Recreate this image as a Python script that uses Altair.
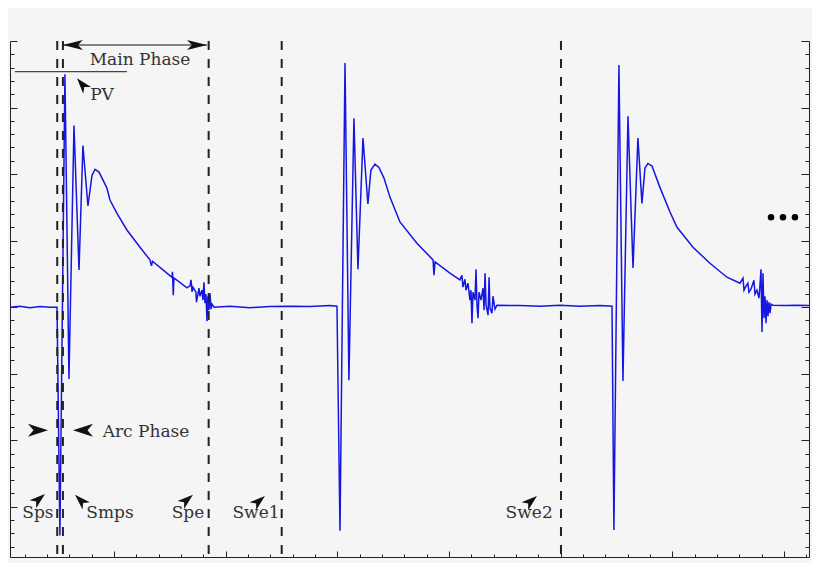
import altair as alt
import pandas as pd

# ---------------- signal (time in ms, amplitude in arbitrary units) ----------------
base0_t = [0.69, 1.58, 2.48, 3.38, 4.27, 4.90]
base0_v = [0.0, 0.015, -0.008, 0.008, 0.0, 0.0]

pulse1_t = [5.16, 5.61, 5.97, 6.42, 6.87, 7.22, 7.67, 8.03, 8.30, 8.66, 9.02, 9.37, 9.64,
            10.27, 11.16, 12.33, 13.22, 13.36, 13.45, 14.39, 15.19, 15.24, 15.31, 15.37,
            16.54, 16.81, 16.90, 16.99, 17.08, 17.34, 17.39, 17.61, 17.70, 17.88, 17.97,
            18.06, 18.15, 18.24, 18.33, 18.42, 18.51, 18.60, 18.69, 18.78, 18.96]
pulse1_v = [-3.43, 3.50, -1.08, 2.73, 0.56, 2.43, 1.52, 1.98, 2.07, 2.03, 1.91, 1.79, 1.61,
            1.41, 1.16, 0.90, 0.71, 0.62, 0.69, 0.56, 0.45, 0.53, 0.18, 0.44,
            0.29, 0.32, 0.41, 0.23, 0.30, 0.225, 0.075, 0.285, 0.165, 0.255, 0.105,
            0.375, 0.06, 0.195, -0.21, 0.165, -0.045, 0.21, -0.03, 0.045, 0.0]

base1_t = [20.39, 22.18, 23.97, 25.76, 27.55, 29.34, 29.97]
base1_v = [0.015, -0.008, 0.008, 0.015, 0.008, 0.023, 0.015]

pulse2_t = [30.24, 30.69, 31.04, 31.49, 31.85, 32.30, 32.74, 33.01, 33.37, 33.73, 34.18,
            34.72, 35.61, 37.13, 38.57, 38.66, 38.75, 40.09, 40.98, 41.16, 41.25, 41.43,
            41.52, 41.70, 41.88, 41.97, 42.06, 42.15, 42.33, 42.42, 42.51, 42.60, 42.69,
            42.87, 43.05, 43.14, 43.23, 43.32, 43.50, 43.59, 43.67, 43.85, 43.94, 44.12, 44.30]
pulse2_v = [-3.36, 3.67, -1.10, 2.84, 0.57, 2.54, 1.55, 2.06, 2.15, 2.10, 1.94,
            1.65, 1.28, 0.96, 0.71, 0.48, 0.68, 0.51, 0.41, 0.48, 0.30, 0.42,
            0.255, 0.36, 0.105, 0.255, -0.24, 0.225, 0.105, 0.57, 0.03, -0.165, 0.225,
            0.105, 0.285, -0.045, 0.51, 0.03, -0.12, 0.45, -0.015, -0.09, 0.165, -0.03, 0.03]

base2_t = [46.36, 48.15, 49.94, 51.73, 53.52, 54.60]
base2_v = [0.023, 0.015, 0.03, 0.015, 0.023, 0.015]

pulse3_t = [54.77, 55.22, 55.58, 56.03, 56.48, 56.92, 57.28, 57.55, 57.82, 58.18, 58.89,
            59.79, 60.42, 61.85, 63.37, 64.89, 66.06, 66.33, 66.42, 66.60, 66.77, 66.86,
            67.04, 67.31, 67.40, 67.58, 67.76, 67.85, 67.94, 68.03, 68.12, 68.21, 68.30,
            68.39, 68.48, 68.57, 68.66, 68.75, 68.84, 69.01]
pulse3_v = [-3.35, 3.64, -1.11, 2.87, 0.59, 2.54, 1.56, 2.09, 2.16, 2.12, 1.80,
            1.43, 1.20, 0.90, 0.66, 0.45, 0.36, 0.435, 0.255, 0.315, 0.36, 0.225,
            0.27, 0.405, 0.195, 0.255, 0.135, 0.33, 0.57, -0.375, 0.51, -0.165, 0.165,
            -0.24, 0.105, -0.135, 0.075, -0.09, 0.045, 0.03]

base3_t = [70.09, 71.16, 72.24]
base3_v = [0.023, 0.03, 0.023]

# ---------------- event markers ----------------
marker_name = ["Sps", "Smps", "Spe", "Swe1", "Swe2"]
marker_t = [4.92, 5.43, 18.48, 25.02, 50.03]

# ---------------- annotations ----------------
label_text = ["Main Phase", "PV", "Arc Phase", "Sps", "Smps", "Spe", "Swe1", "Swe2"]
label_t = [12.33, 8.93, 12.87, 3.19, 9.64, 16.63, 22.72, 47.18]
label_v = [3.635, 3.11, -1.953, -3.17, -3.17, -3.17, -3.17, -3.17]

pointer_t = [6.69, 6.51, 3.82, 17.07, 23.52, 47.88]
pointer_v = [3.44, -2.82, -2.81, -2.82, -2.84, -2.84]
pointer_angle = [230, 225, 320, 320, 320, 320]

arc_t = [4.09, 6.33]
arc_v = [-1.85, -1.85]
arc_angle = [0, 180]

main_t = [5.43, 18.33]
main_v = [3.94, 3.94]
main_angle = [180, 0]

pv_level_t = [1.13, 11.16]
pv_level_v = [3.54]

dots_t = [68.84, 69.91, 70.98]
dots_v = [1.35, 1.35, 1.35]

# ---------------- ticks ----------------
x_major = [10, 20, 30, 40, 50, 60, 70]
x_minor = [2, 4, 6, 8, 12, 14, 16, 18, 22, 24, 26, 28, 32, 34, 36, 38, 42, 44, 46, 48,
           52, 54, 56, 58, 62, 64, 66, 68, 72]
y_major = [-3, -2, -1, 0, 1, 2, 3, 4]
y_minor = [-3.6, -3.4, -3.2, -2.8, -2.6, -2.4, -2.2, -1.8, -1.6, -1.4, -1.2, -0.8, -0.6,
           -0.4, -0.2, 0.2, 0.4, 0.6, 0.8, 1.2, 1.4, 1.6, 1.8, 2.2, 2.4, 2.6, 2.8, 3.2,
           3.4, 3.6, 3.8]

# ---------------- build tables ----------------
sig = pd.concat([
    pd.DataFrame({"t": base0_t, "v": base0_v}),
    pd.DataFrame({"t": pulse1_t, "v": pulse1_v}),
    pd.DataFrame({"t": base1_t, "v": base1_v}),
    pd.DataFrame({"t": pulse2_t, "v": pulse2_v}),
    pd.DataFrame({"t": base2_t, "v": base2_v}),
    pd.DataFrame({"t": pulse3_t, "v": pulse3_v}),
    pd.DataFrame({"t": base3_t, "v": base3_v}),
], ignore_index=True)

markers = pd.DataFrame({"name": marker_name, "t": marker_t})
labels = pd.DataFrame({"text": label_text, "t": label_t, "v": label_v})
pointers = pd.DataFrame({"t": pointer_t, "v": pointer_v, "a": pointer_angle})
arcs = pd.DataFrame({"t": arc_t, "v": arc_v, "a": arc_angle})
mains = pd.DataFrame({"t": main_t, "v": main_v, "a": main_angle})
main_span = pd.DataFrame({"t0": [main_t[0]], "t1": [main_t[1]], "v": [main_v[0]]})
pv_level = pd.DataFrame({"t0": [pv_level_t[0]], "t1": [pv_level_t[1]], "v": pv_level_v})
dots = pd.DataFrame({"t": dots_t, "v": dots_v})

W, H = 799, 516
xs = alt.Scale(domain=[0.69, 72.24], nice=False, zero=False)
ys = alt.Scale(domain=[-3.755, 4.0], nice=False, zero=False)
AX = "#222222"


def x_axis(vals, size, dom):
    return alt.Axis(orient="top", offset=-H, values=vals, tickSize=size, labels=False,
                    title=None, grid=False, domain=dom, domainColor=AX, domainWidth=1,
                    tickColor=AX, tickWidth=1)


def y_axis(orient, vals, size, dom):
    return alt.Axis(orient=orient, offset=-W, values=vals, tickSize=size, labels=False,
                    title=None, grid=False, domain=dom, domainColor=AX, domainWidth=1,
                    tickColor=AX, tickWidth=1)


line = alt.Chart(sig).mark_line(color="#1616e0", strokeWidth=1.5, interpolate="linear").encode(
    x=alt.X("t:Q", scale=xs, axis=x_axis(x_major, 6, True)),
    y=alt.Y("v:Q", scale=ys, axis=y_axis("right", y_major, 7, True)),
    order="t:Q",
)

rules = alt.Chart(markers).mark_rule(color="#222222", strokeWidth=2, strokeDash=[9, 9]).encode(
    x=alt.X("t:Q", scale=xs, axis=None),
    y=alt.YDatum(4.0, axis=None),
    y2=alt.Y2Datum(-3.755),
)

pv_line = alt.Chart(pv_level).mark_rule(color="#444444", strokeWidth=1.2).encode(
    x=alt.X("t0:Q", scale=xs, axis=None),
    x2="t1:Q",
    y=alt.Y("v:Q", scale=ys, axis=None),
)

main_line = alt.Chart(main_span).mark_rule(color="#111111", strokeWidth=1.2).encode(
    x=alt.X("t0:Q", scale=xs, axis=None),
    x2="t1:Q",
    y=alt.Y("v:Q", scale=ys, axis=None),
)

STEALTH = "M0,0L-2,-0.65L-1.45,0L-2,0.65Z"
STEALTH_NARROW = "M0,0L-2,-0.5L-1.5,0L-2,0.5Z"

ptr = alt.Chart(pointers).mark_point(shape=STEALTH, filled=True, size=250, color="#111111",
                                     opacity=1, strokeWidth=0).encode(
    x=alt.X("t:Q", scale=xs, axis=None),
    y=alt.Y("v:Q", scale=ys, axis=y_axis("left", y_major, 8, True)),
    angle=alt.Angle("a:Q", scale=None),
)

arc = alt.Chart(arcs).mark_point(shape=STEALTH, filled=True, size=400, color="#111111",
                                 opacity=1, strokeWidth=0).encode(
    x=alt.X("t:Q", scale=xs, axis=None),
    y=alt.Y("v:Q", scale=ys, axis=None),
    angle=alt.Angle("a:Q", scale=None),
)

mainh = alt.Chart(mains).mark_point(shape=STEALTH_NARROW, filled=True, size=400, color="#111111",
                                    opacity=1, strokeWidth=0).encode(
    x=alt.X("t:Q", scale=xs, axis=None),
    y=alt.Y("v:Q", scale=ys, axis=None),
    angle=alt.Angle("a:Q", scale=None),
)

text = alt.Chart(labels).mark_text(font="DejaVu Serif", fontSize=17, color="#333333",
                                   align="center", baseline="alphabetic").encode(
    x=alt.X("t:Q", scale=xs, axis=x_axis(x_minor, 3, False)),
    y=alt.Y("v:Q", scale=ys, axis=y_axis("right", y_minor, 4, False)),
    text="text:N",
)

dot = alt.Chart(dots).mark_point(shape="circle", filled=True, size=42, color="#000000",
                                 opacity=1, strokeWidth=0).encode(
    x=alt.X("t:Q", scale=xs, axis=None),
    y=alt.Y("v:Q", scale=ys, axis=y_axis("left", y_minor, 4, False)),
)

chart = alt.layer(line, rules, pv_line, main_line, ptr, arc, mainh, text, dot).resolve_axis(
    x="independent", y="independent"
).properties(
    width=W, height=H,
    background="#f5f5f5",
    padding={"left": 2, "top": 33, "right": 3, "bottom": 6},
    autosize=alt.AutoSizeParams(type="none"),
).configure_view(stroke=None)

chart.save("out.html", embed_options={"renderer": "svg", "actions": False})
